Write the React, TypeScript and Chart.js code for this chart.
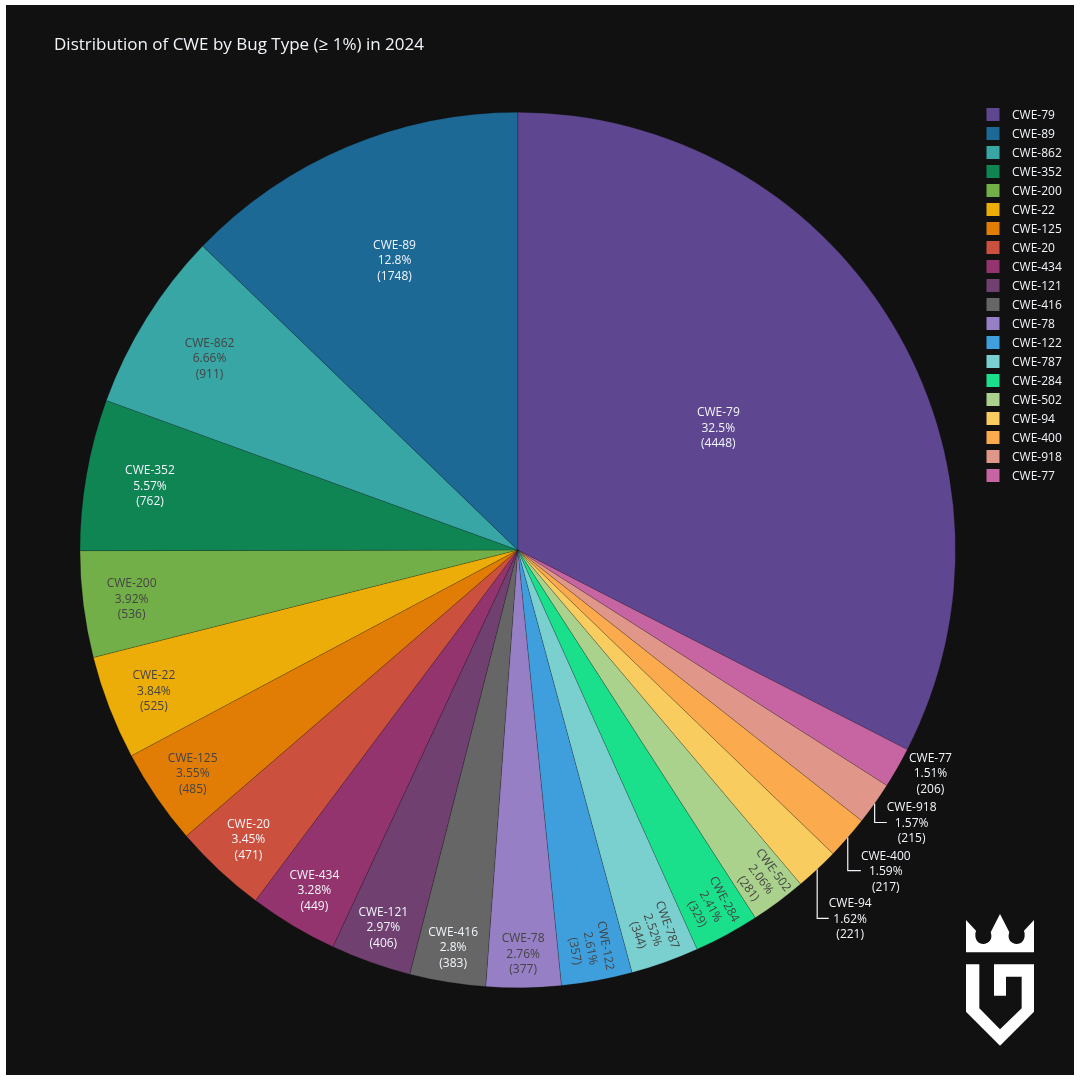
import { useEffect, useRef } from "react";
import { Chart, registerables } from "chart.js";

Chart.register(...registerables);

const TITLE = "Distribution of CWE by Bug Type (≥ 1%) in 2024";

// legend order, largest first
const categories = [
  "CWE-79", "CWE-89", "CWE-862", "CWE-352", "CWE-200", "CWE-22", "CWE-125", "CWE-20", "CWE-434", "CWE-121",
  "CWE-416", "CWE-78", "CWE-122", "CWE-787", "CWE-284", "CWE-502", "CWE-94", "CWE-400", "CWE-918", "CWE-77",
];
const counts = [4448, 1748, 911, 762, 536, 525, 485, 471, 449, 406, 383, 377, 357, 344, 329, 281, 221, 217, 215, 206];
const colors = [
  "#5f4690", "#1d6996", "#38a6a5", "#0f8554", "#73af48", "#edad08", "#e17c05", "#cc503e", "#94346e", "#6f4070",
  "#666666", "#967fc4", "#3f9fdc", "#7ad0cf", "#1ae08c", "#aad28c", "#f8cc5e", "#fbab4e", "#e0978a", "#c764a2",
];

const BG = "#111111";
const TEXT = "#f2f5fa";
const DARK_TEXT = "#444444";
const FONT = '12px "Open Sans"';
const LINE_HEIGHT = 15.5;

const whiteLabels = ["CWE-79", "CWE-89", "CWE-352", "CWE-20", "CWE-434", "CWE-121", "CWE-416"];

// how far along the radius the inside labels sit
const labelRadius: Record<string, number> = {
  "CWE-79": 0.537, "CWE-89": 0.72, "CWE-862": 0.83, "CWE-352": 0.853, "CWE-200": 0.889, "CWE-22": 0.891,
  "CWE-125": 0.9, "CWE-20": 0.902, "CWE-434": 0.905, "CWE-121": 0.914, "CWE-416": 0.919, "CWE-78": 0.921,
  "CWE-122": 0.925, "CWE-787": 0.921, "CWE-284": 0.926, "CWE-502": 0.935,
};
const radialLabels = ["CWE-122", "CWE-787", "CWE-284", "CWE-502"];

// outside labels: offset from the slice's rim point, leader line or not
const outsideLabels: Record<string, { dx: number; dy: number; leader: boolean }> = {
  "CWE-94": { dx: 33, dy: 49, leader: true },
  "CWE-400": { dx: 38, dy: 33, leader: true },
  "CWE-918": { dx: 37, dy: 19, leader: true },
  "CWE-77": { dx: 33, dy: 5, leader: false },
};

const total = counts.reduce((a, b) => a + b, 0);

function labelLines(name: string) {
  const i = categories.indexOf(name);
  const pct = parseFloat(((counts[i] / total) * 100).toPrecision(3));
  return [name, `${pct}%`, `(${counts[i]})`];
}

function drawLines(ctx: CanvasRenderingContext2D, lines: string[]) {
  lines.forEach((line, i) => ctx.fillText(line, 0, (i - 1) * LINE_HEIGHT + 1));
}

const framePlugin = {
  id: "frame",
  beforeDraw(chart: Chart) {
    const { ctx } = chart;
    ctx.save();
    ctx.fillStyle = "#ffffff";
    ctx.fillRect(0, 0, chart.width, chart.height);
    ctx.fillStyle = BG;
    ctx.fillRect(6, 5, 1068, 1070);
    ctx.restore();
  },
};

const annotationsPlugin = {
  id: "annotations",
  afterDraw(chart: Chart) {
    const { ctx } = chart;
    ctx.save();

    // title
    ctx.font = '17px "Open Sans"';
    ctx.fillStyle = TEXT;
    ctx.textAlign = "left";
    ctx.textBaseline = "middle";
    ctx.fillText(TITLE, 54, 45);

    // legend
    ctx.font = FONT;
    categories.forEach((name, i) => {
      const y = 114.5 + i * 19;
      ctx.fillStyle = colors[i];
      ctx.fillRect(986.5, y - 6.5, 13, 13);
      ctx.fillStyle = TEXT;
      ctx.fillText(name, 1012, y + 1);
    });

    // slice labels
    ctx.textAlign = "center";
    const arcs = chart.getDatasetMeta(0).data;
    const names = chart.data.labels as string[];
    arcs.forEach((el, i) => {
      const name = names[i];
      const { x, y, startAngle, endAngle, outerRadius } = (el as any).getProps([
        "x", "y", "startAngle", "endAngle", "outerRadius",
      ]);
      const mid = (startAngle + endAngle) / 2;
      const lines = labelLines(name);
      const outside = outsideLabels[name];

      if (outside) {
        const rimX = x + Math.cos(mid) * outerRadius;
        const rimY = y + Math.sin(mid) * outerRadius;
        const cx = rimX + outside.dx;
        const cy = rimY + outside.dy;
        if (outside.leader) {
          const halfWidth = ctx.measureText(lines[0]).width / 2;
          ctx.strokeStyle = TEXT;
          ctx.lineWidth = 1.2;
          ctx.beginPath();
          ctx.moveTo(rimX, rimY);
          ctx.lineTo(rimX, cy);
          ctx.lineTo(cx - halfWidth, cy);
          ctx.stroke();
        }
        ctx.save();
        ctx.translate(cx, cy);
        ctx.fillStyle = TEXT;
        drawLines(ctx, lines);
        ctx.restore();
        return;
      }

      const r = outerRadius * labelRadius[name];
      ctx.save();
      ctx.translate(x + Math.cos(mid) * r, y + Math.sin(mid) * r);
      if (radialLabels.includes(name)) ctx.rotate(mid);
      ctx.fillStyle = whiteLabels.includes(name) ? TEXT : DARK_TEXT;
      drawLines(ctx, lines);
      ctx.restore();
    });

    ctx.restore();
  },
};

function Logo() {
  return (
    <svg
      viewBox="0 0 420 540"
      style={{ position: "absolute", left: 940, top: 900, width: 140, height: 180 }}
    >
      <path
        fill="#ffffff"
        d="M78 157V60L108 92C100 118 116 132 130 132C146 132 160 118 152 97L180 42L208 97C200 118 214 132 230 132C244 132 260 118 252 92L282 60V157Z"
      />
      <path
        fill="#ffffff"
        d="M78 193H118V325L180 388L245 325V230H198V287H162V193H282V335L180 437L78 335Z"
      />
    </svg>
  );
}

export default function App() {
  const canvasRef = useRef<HTMLCanvasElement>(null);

  useEffect(() => {
    if (!canvasRef.current) return;

    // slices run clockwise: biggest one first, then smallest up to second biggest
    const order = [0, ...categories.map((_, i) => i).slice(1).reverse()];

    const chart = new Chart(canvasRef.current, {
      type: "pie",
      data: {
        labels: order.map((i) => categories[i]),
        datasets: [
          {
            data: order.map((i) => counts[i]),
            backgroundColor: order.map((i) => colors[i]),
            borderColor: "rgba(17, 17, 17, 0.4)",
            borderWidth: 0.5,
          },
        ],
      },
      options: {
        responsive: false,
        animation: false,
        layout: { padding: { left: 79.5, right: 124, top: 112, bottom: 92 } },
        plugins: {
          legend: { display: false },
          title: { display: false },
          tooltip: { enabled: false },
        },
      },
      plugins: [framePlugin, annotationsPlugin],
    });

    return () => chart.destroy();
  }, []);

  return (
    <div style={{ position: "absolute", left: 0, top: 0, width: 1080, height: 1080 }}>
      <canvas ref={canvasRef} width={1080} height={1080} style={{ display: "block" }} />
      <Logo />
    </div>
  );
}
